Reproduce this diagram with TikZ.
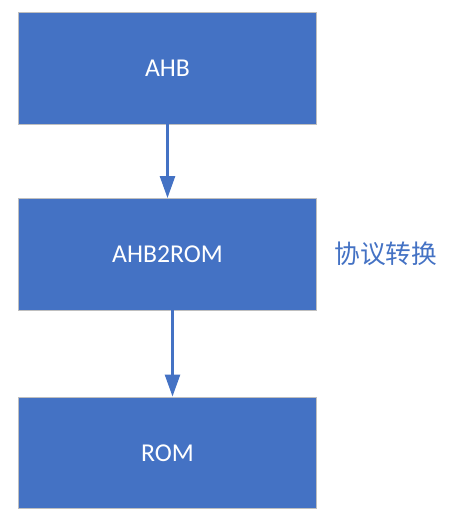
\documentclass[tikz,border=0pt]{standalone}
\usepackage{fontspec}
\setmainfont{Carlito}
\newfontfamily\cjk{Noto Sans CJK SC}
\usetikzlibrary{arrows.meta}
\definecolor{blockblue}{HTML}{4472C4}
\tikzset{
  busbox/.style={draw=black!25, line width=0.9pt, fill=blockblue, text=white,
    minimum width=298pt, minimum height=111.5pt, inner sep=0pt,
    font=\fontsize{25.7}{30}\selectfont},
  busarrow/.style={draw=blockblue, line width=2.6pt,
    -{Triangle[width=15pt,length=22pt]}}
}

\begin{document}
\begin{tikzpicture}[x=1pt,y=-1pt]
		%%%%% START %%%%%
		\useasboundingbox (0, 0) rectangle (465, 518);
		
		\node[busbox] (ahb) at (167.5, 68.25) {AHB};
		\node[busbox] (ahb2rom) at (167.5, 254.25) {AHB2ROM};
		\node[busbox] (rom) at (167.5, 452.75) {ROM};
		
		\node[text=blockblue, font=\cjk\fontsize{25.7}{30}\selectfont, anchor=west] (conv) at (331, 254) {协议转换};
		
		\draw[busarrow] (ahb.south) -- (ahb2rom.north);
		\draw[busarrow] ([xshift=5pt]ahb2rom.south) -- ([xshift=5pt]rom.north);
		
		%%%%% END %%%%%
	\end{tikzpicture}
\end{document}
